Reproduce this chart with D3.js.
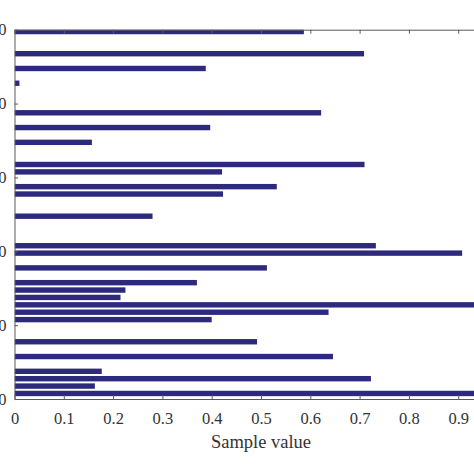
<!DOCTYPE html>
<html>
<head>
<meta charset="utf-8">
<script src="https://cdn.jsdelivr.net/npm/d3@7"></script>
<style>
body { margin: 0; background: #fff; }
.axis path, .axis line { stroke: #5a5a5a; }
.axis text { font-family: "Liberation Serif", "DejaVu Serif", serif; font-size: 16.5px; fill: #333; }
</style>
</head>
<body>
<div id="svgElement1"></div>
<script>
// row of each bar (1 = bottom row) and its sample value
var rowIndex = [1, 2, 3, 4, 6, 8, 11, 12, 13, 14, 15, 16, 18, 20, 21, 25, 28, 29, 31, 32, 35, 37, 39, 43, 45, 47, 50];
var sampleValue = [0.97, 0.163, 0.723, 0.177, 0.646, 0.492, 0.40, 0.637, 0.97, 0.215, 0.225, 0.370, 0.512, 0.908, 0.733,
	0.280, 0.423, 0.532, 0.421, 0.710, 0.157, 0.397, 0.622, 0.010, 0.388, 0.709, 0.587];

var xTicks = [0, 0.1, 0.2, 0.3, 0.4, 0.5, 0.6, 0.7, 0.8, 0.9];
var xTickLabels = ["0", "0.1", "0.2", "0.3", "0.4", "0.5", "0.6", "0.7", "0.8", "0.9"];
var yTicks = [0, 10, 20, 30, 40, 50];
var yTickLabels = ["0", "10", "20", "30", "40", "50"];

var width = 474, height = 474;
var plot = {top: 29.7, bottom: 399, left: 14.5, right: 507.5};
var barOffset = 0.25;   // bars sit a little under their row number
var barHeight = 5.4;

var svg = d3.select("#svgElement1").append("svg").attr("width", width).attr("height", height);

var x = d3.scaleLinear().domain([0, 1]).range([plot.left, plot.right]);
var y = d3.scaleLinear().domain([0, 50]).range([plot.bottom, plot.top]);

svg.append("clipPath")
	.attr("id", "plotclip")
	.append("rect")
	.attr("x", plot.left)
	.attr("y", plot.top)
	.attr("width", plot.right - plot.left)
	.attr("height", plot.bottom - plot.top);

//drawing the bars
var bars = rowIndex.map(function (r, i) { return {row: r, value: sampleValue[i]}; });
svg.append("g")
	.attr("clip-path", "url(#plotclip)")
	.selectAll("rect")
	.data(bars)
	.enter()
	.append("rect")
	.attr("x", x(0))
	.attr("y", function (d) { return y(d.row - barOffset) - barHeight / 2; })
	.attr("width", function (d) { return x(d.value) - x(0); })
	.attr("height", barHeight)
	.style("fill", "#2d2a7e");

//drawing the graph axes
var xAxis = d3.axisBottom(x).tickValues(xTicks)
	.tickFormat(function (d, i) { return xTickLabels[i]; })
	.tickSizeInner(-4).tickSizeOuter(0).tickPadding(13);
svg.append("g")
	.attr("class", "axis")
	.attr("transform", "translate(0," + plot.bottom + ")")
	.call(xAxis);

var xTop = d3.axisTop(x).tickValues(xTicks).tickFormat("")
	.tickSizeInner(-4).tickSizeOuter(0);
svg.append("g")
	.attr("class", "axis")
	.attr("transform", "translate(0," + plot.top + ")")
	.call(xTop);

var yAxis = d3.axisLeft(y).tickValues(yTicks)
	.tickFormat(function (d, i) { return yTickLabels[i]; })
	.tickSizeInner(-3.5).tickSizeOuter(0).tickPadding(8);
svg.append("g")
	.attr("class", "axis")
	.attr("transform", "translate(" + plot.left + ",0)")
	.call(yAxis);

svg.append("text")
	.attr("x", 261)
	.attr("y", 448)
	.style("text-anchor", "middle")
	.style("font-family", "'Liberation Serif', 'DejaVu Serif', serif")
	.style("font-size", "18.5px")
	.style("fill", "#333")
	.text("Sample value");
</script>
</body>
</html>
